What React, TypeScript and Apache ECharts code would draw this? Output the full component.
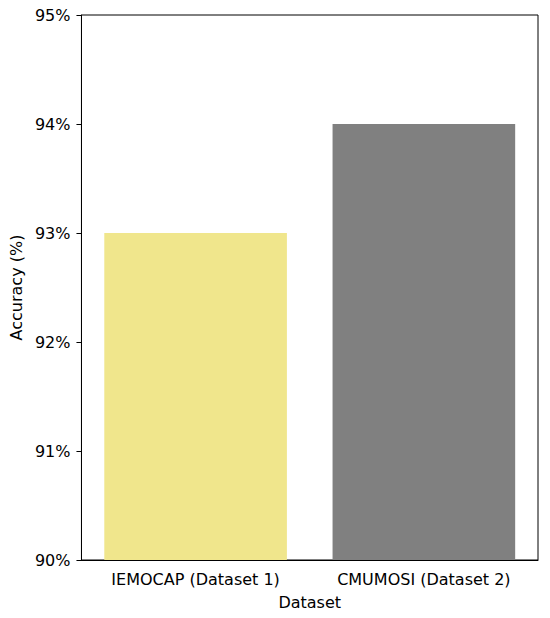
import React, { useEffect, useRef } from "react";
import * as echarts from "echarts";

const categories = ["IEMOCAP (Dataset 1)", "CMUMOSI (Dataset 2)"];
const accuracy = [93, 94];
const barColors = ["#F0E68C", "#808080"];
const yTicks = [90, 91, 92, 93, 94, 95];

export default function App() {
  const ref = useRef<HTMLDivElement>(null);
  useEffect(() => {
    if (!ref.current) return;
    const chart = echarts.init(ref.current, undefined, { renderer: "svg" });
    const font = "DejaVu Sans";
    const fs = 16;
    chart.setOption({
      animation: false,
      backgroundColor: "#ffffff",
      grid: {
        left: 81,
        right: 12,
        top: 15,
        bottom: 58,
        show: true,
        borderColor: "#000000",
        borderWidth: 1,
        backgroundColor: "transparent",
      },
      xAxis: {
        type: "category",
        data: categories,
        name: "Dataset",
        nameLocation: "middle",
        nameGap: 34,
        nameTextStyle: { fontFamily: font, fontSize: fs, color: "#000" },
        axisLine: { lineStyle: { color: "#000", width: 1 } },
        axisTick: { alignWithLabel: true, length: 5, lineStyle: { color: "#000" } },
        axisLabel: { fontFamily: font, fontSize: fs, color: "#000", margin: 11 },
      },
      yAxis: {
        type: "value",
        min: yTicks[0],
        max: yTicks[yTicks.length - 1],
        interval: 1,
        name: "Accuracy (%)",
        nameLocation: "middle",
        nameGap: 57,
        nameTextStyle: { fontFamily: font, fontSize: fs, color: "#000" },
        axisLine: { show: true, lineStyle: { color: "#000", width: 1 } },
        axisTick: { show: true, length: 5, lineStyle: { color: "#000" } },
        splitLine: { show: false },
        axisLabel: {
          fontFamily: font,
          fontSize: fs,
          color: "#000",
          margin: 11,
          formatter: (v: number) => `${v}%`,
        },
      },
      series: [
        {
          type: "bar",
          barCategoryGap: "20%",
          data: accuracy.map((v, i) => ({ value: v, itemStyle: { color: barColors[i] } })),
        },
      ],
    });
    return () => chart.dispose();
  }, []);
  return (
    <div
      ref={ref}
      style={{ position: "fixed", left: 0, top: 0, width: 550, height: 618 }}
    />
  );
}
